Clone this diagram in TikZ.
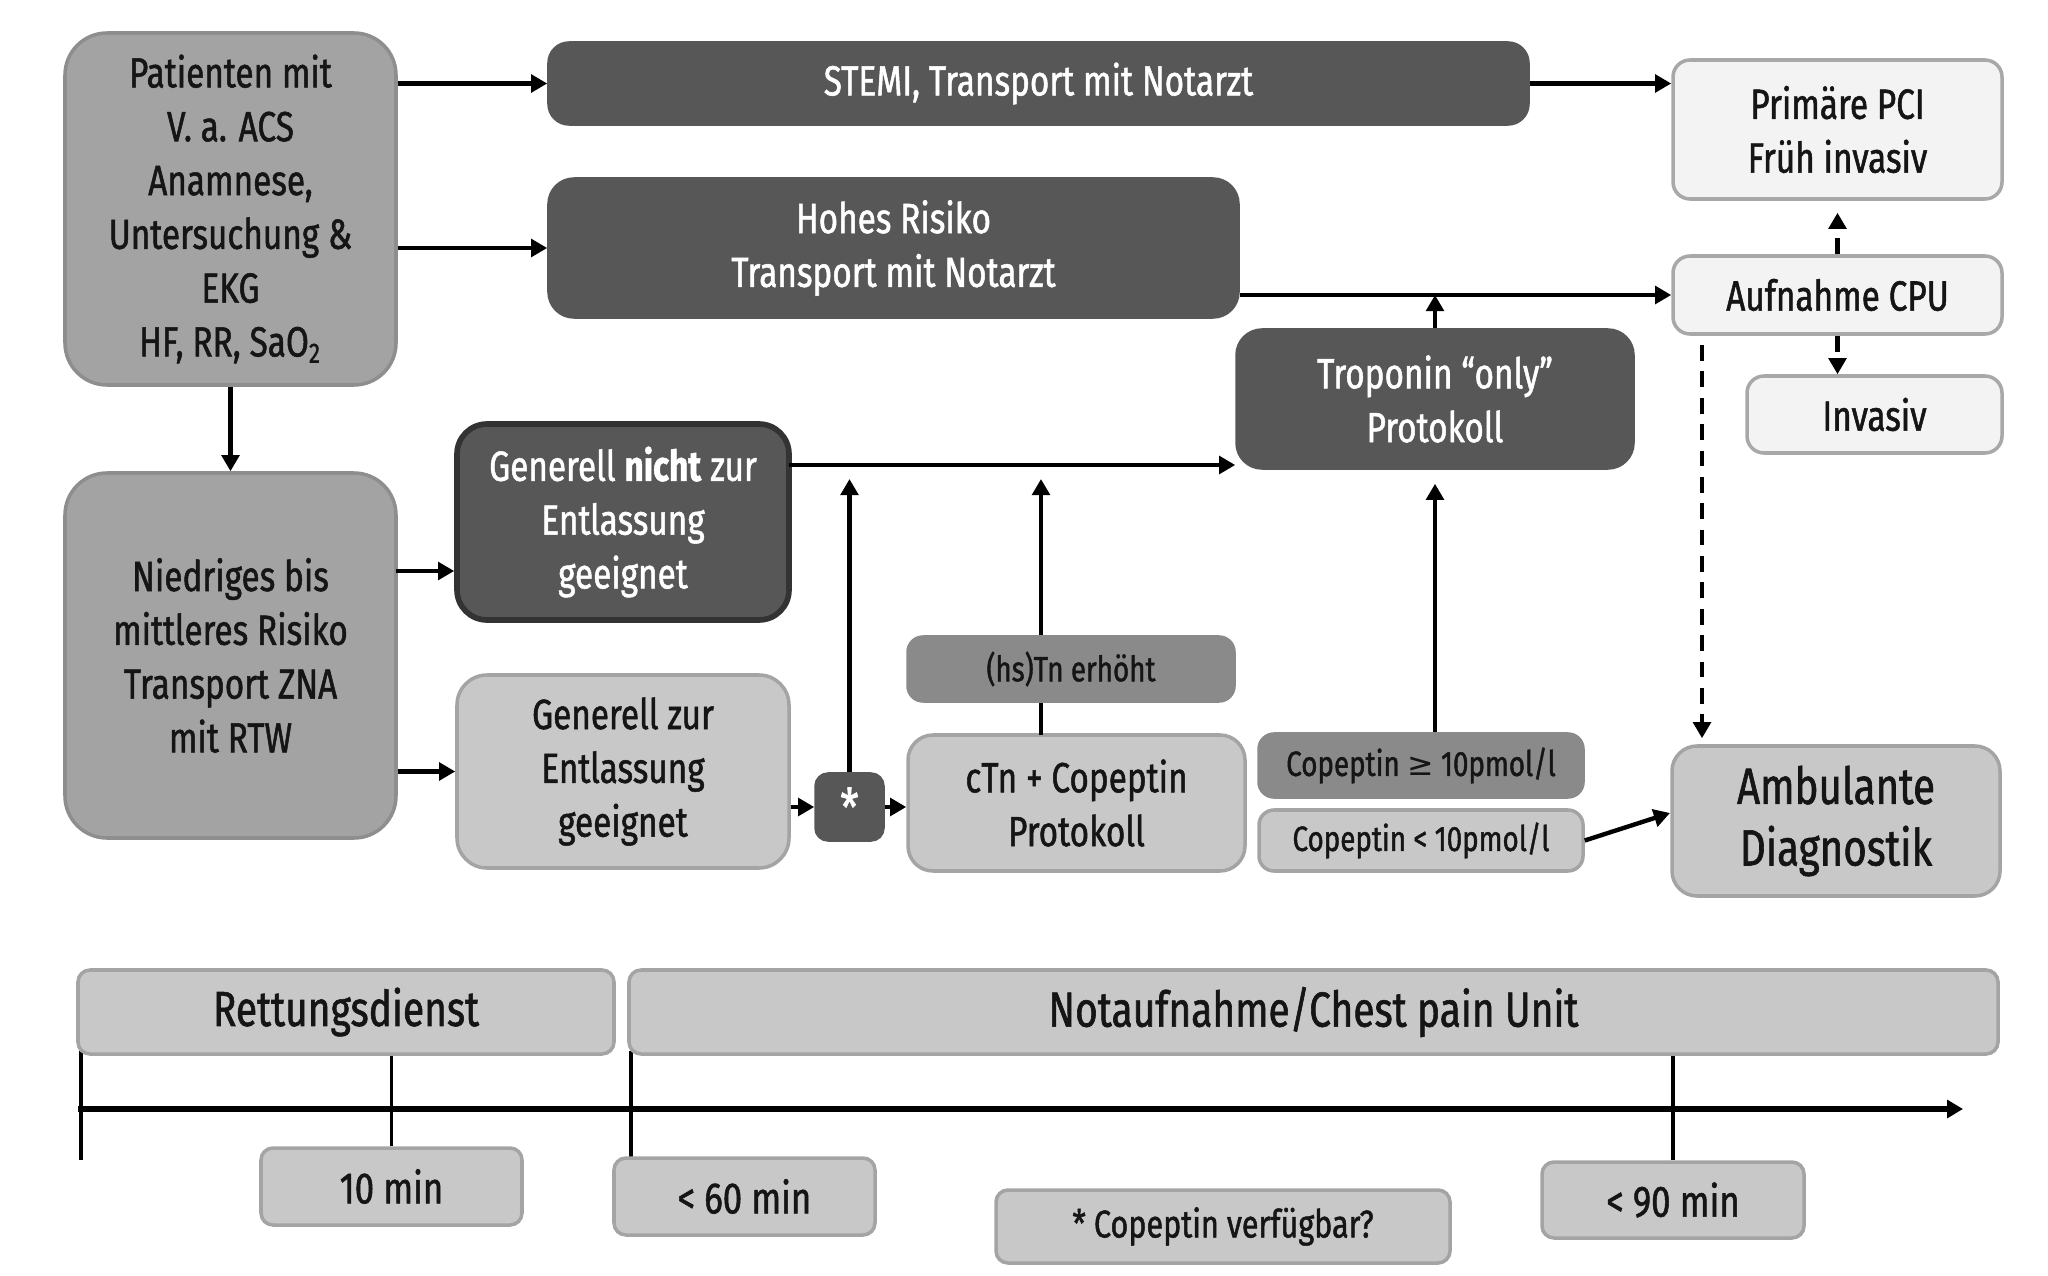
\documentclass[tikz,border=0pt]{standalone}
\usepackage{fontspec}
\setmainfont[FakeStretch=0.79,FakeBold=1.2]{Fira Sans}
\newfontfamily\symfont{DejaVu Sans}
\usetikzlibrary{arrows.meta,calc}
\definecolor{dk}{HTML}{575757}
\definecolor{md}{HTML}{A3A3A3}
\definecolor{mdb}{HTML}{8E8E8E}
\definecolor{lt}{HTML}{C8C8C8}
\definecolor{ltb}{HTML}{A4A4A4}
\definecolor{vl}{HTML}{F3F3F3}
\definecolor{vlb}{HTML}{A8A8A8}
\definecolor{mk}{HTML}{8A8A8A}
\definecolor{tx}{HTML}{151515}
\newcommand\mybox[7]{\node[#2, minimum width={(#5-#3)*0.01cm}, minimum height={(#6-#4)*0.01cm}] (#1) at ({(#3+#5)/2},{(#4+#6)/2}) {#7};}
\tikzset{
  bx/.style={rectangle, inner sep=0pt, align=center, line width=1pt, rounded corners=0.2cm, text=tx, font=\fontsize{12}{15.3}\selectfont},
  dkbox/.style={bx, fill=dk, draw=dk, text=white},
  mdbox/.style={bx, fill=md, draw=mdb},
  ltbox/.style={bx, fill=lt, draw=ltb},
  vlbox/.style={bx, fill=vl, draw=vlb, rounded corners=0.17cm},
  mkbox/.style={bx, fill=mk, draw=mk, font=\fontsize{10}{12}\selectfont, rounded corners=0.15cm},
  tlbox/.style={bx, fill=lt, draw=ltb, rounded corners=0.12cm, font=\fontsize{14}{17}\selectfont},
  tlsm/.style={tlbox, font=\fontsize{12.5}{15}\selectfont},
  arr/.style={-{Triangle[length=4.6pt,width=5pt]}, line width=1.25pt},
  dsh/.style={arr, dash pattern=on 4.5pt off 3pt},
}
\begin{document}
\begin{tikzpicture}[x=0.01cm,y=-0.01cm]
\useasboundingbox (0,0) rectangle (2048,1276);
% flow boxes
\mybox{pat}{mdbox,rounded corners=0.42cm}{65}{33}{396}{385}{\raisebox{-3pt}{}Patienten mit\\V. a. ACS\\Anamnese,\\Untersuchung \&\\EKG\\HF, RR, SaO\textsubscript{2}}
\mybox{nied}{mdbox,rounded corners=0.42cm}{65}{473}{396}{838}{Niedriges bis\\mittleres Risiko\\Transport ZNA\\mit RTW}
\mybox{stemi}{dkbox}{549}{43}{1528}{124}{STEMI, Transport mit Notarzt}
\mybox{hohes}{dkbox,rounded corners=0.25cm}{549}{179}{1238}{317}{Hohes Risiko\\Transport mit Notarzt}
\mybox{pci}{vlbox}{1673}{60}{2002}{199}{Primäre PCI\\Früh invasiv}
\mybox{cpu}{vlbox}{1673}{256}{2002}{334}{Aufnahme CPU}
\mybox{inv}{vlbox}{1747}{376}{2002}{453}{Invasiv}
\mybox{trop}{dkbox,rounded corners=0.25cm}{1237}{330}{1633}{468}{Troponin “only”\\Protokoll}
\mybox{gn}{dkbox,draw=black!80,line width=1.6pt,rounded corners=0.3cm}{457}{424}{789}{620}{Generell \textbf{nicht} zur\\Entlassung\\geeignet}
\mybox{gz}{ltbox,rounded corners=0.3cm}{457}{675}{789}{868}{Generell zur\\Entlassung\\geeignet}
\mybox{star}{dkbox,rounded corners=0.12cm,font=\fontsize{15}{15}\selectfont}{816}{774}{883}{840}{*}
\mybox{ctn}{ltbox,rounded corners=0.25cm}{908}{735}{1245}{871}{cTn + Copeptin\\Protokoll}
\coordinate (tnx) at (1041,735);
\coordinate (gnout) at (789,465);
\draw[arr] (tnx) -- ($(tnx |- gnout)+(0,14)$);
\mybox{hstn}{mkbox}{908}{637}{1234}{701}{(hs)Tn erhöht}
\mybox{cophi}{mkbox}{1259}{734}{1583}{797}{Copeptin {\symfont\fontsize{9}{12}\selectfont ≥} 10pmol/l}
\mybox{coplo}{ltbox,font=\fontsize{10}{12}\selectfont,rounded corners=0.15cm}{1259}{810}{1583}{871}{Copeptin < 10pmol/l}
\mybox{amb}{ltbox,rounded corners=0.25cm,font=\fontsize{14.5}{17.5}\selectfont}{1672}{746}{2000}{896}{Ambulante\\Diagnostik}
% connectors
\draw[arr] (pat.east |- stemi.west) -- (stemi.west);
\draw[arr] (pat.east |- hohes.west) -- (hohes.west);
\draw[arr] (stemi.east) -- (stemi.east -| pci.west);
\draw[arr] (hohes.east |- cpu.west) -- (cpu.west);
\draw[arr] (trop.north) -- (trop.north |- cpu.west);
\coordinate (pcitip) at ($(pci.south)+(0,12)$);
\draw[dsh] (cpu.north) -- (pcitip);
\draw[dsh] (cpu.south) -- (cpu.south |- inv.north);
\coordinate (dtop) at (1702,345);
\draw[dsh] (dtop) -- ($(dtop |- amb.north)+(0,-6)$);
\draw[arr] (pat.south) -- (nied.north);
\coordinate (ng) at (396,571);
\draw[arr] (ng) -- (ng -| gn.west);
\draw[arr] (nied.east |- gz.west) -- (gz.west);
\draw[arr] (gnout) -- (gnout -| trop.west);
\draw[arr] (gz.east |- star.west) -- (star.west);
\draw[arr] (star.east) -- (star.east -| ctn.west);
\draw[arr] (star.north) -- ($(star.north |- gnout)+(0,14)$);
\draw[arr] (cophi.north -| trop.south) -- ($(trop.south)+(0,14)$);
\coordinate (ambin) at (1670,813);
\draw[arr] (coplo.east) -- (ambin);
% timeline
\coordinate (ax0) at (78,1109);
\coordinate (ax1) at (1963,1109);
\coordinate (t0a) at (81,1051);
\coordinate (t0b) at (81,1160);
\coordinate (t2a) at (631,1051);
\coordinate (t2b) at (631,1157);
\draw[line width=1.1pt] (t0a) -- (t0b);
\draw[line width=1.1pt] (t2a) -- (t2b);
\mybox{rett}{tlbox}{78}{970}{614}{1054}{Rettungsdienst}
\mybox{nota}{tlbox}{629}{970}{1998}{1054}{Notaufnahme/Chest pain Unit}
\mybox{m10}{tlsm}{261}{1148}{522}{1225}{10 min}
\mybox{m60}{tlsm}{614}{1158}{875}{1235}{< 60 min}
\mybox{copv}{tlsm,font=\fontsize{11}{13}\selectfont}{996}{1190}{1450}{1263}{* Copeptin verfügbar?}
\mybox{m90}{tlsm}{1542}{1162}{1804}{1238}{< 90 min}
\draw[line width=1.1pt] (m10.north) -- (m10.north |- rett.south);
\draw[line width=1.1pt] (m90.north) -- (m90.north |- nota.south);
\draw[line width=1.8pt,-{Triangle[length=4.5pt,width=5pt]}] (ax0) -- (ax1);
\end{tikzpicture}
\end{document}
